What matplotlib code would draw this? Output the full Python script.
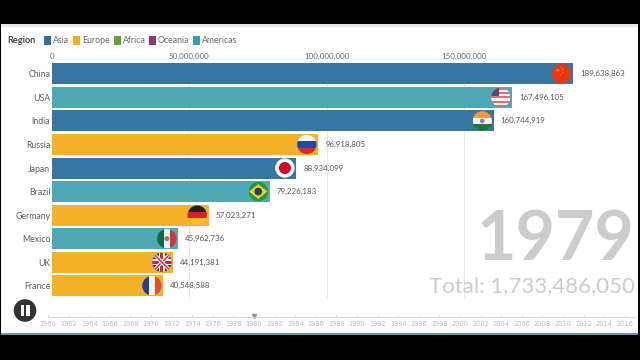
"""
Bar chart race frame: ten largest economies in 1979, Flourish style.
"""

import matplotlib
matplotlib.use("Agg")
import matplotlib.pyplot as plt
from matplotlib.patches import Circle, Rectangle, Polygon

W, H = 640, 360

countries = ["China", "USA", "India", "Russia", "Japan", "Brazil", "Germany", "Mexico", "UK", "France"]
values = [189638863, 167496105, 160744919, 96918805, 88934099, 79226183, 57023271, 45962736, 44191381, 40548588]
regions = ["Asia", "Americas", "Asia", "Europe", "Asia", "Americas", "Europe", "Americas", "Europe", "Europe"]
flags = ["cn", "us", "in", "ru", "jp", "br", "de", "mx", "uk", "fr"]

legend_names = ["Asia", "Europe", "Africa", "Oceania", "Americas"]
legend_colors = ["#2f6f9f", "#f3ae1f", "#6a9f3c", "#8e3a6d", "#2f9ea8"]
bar_colors = {"Asia": "#3776a1", "Europe": "#f3b229", "Americas": "#4fa8b4"}

axis_ticks = [0, 50000000, 100000000, 150000000]
timeline_years = list(range(1960, 2017, 2))
current_year = 1980
year_label = "1979"
total_label = "Total: 1,733,486,050"

plt.rcParams["font.family"] = ["Lato", "DejaVu Sans"]


def px_axes(fig, x0, y0, x1, y1):
    """Axes covering a box given in image pixels (y going down)."""
    return fig.add_axes([x0 / W, 1 - y1 / H, (x1 - x0) / W, (y1 - y0) / H])


def draw_flag(fig, cx, cy, code, r=9.7):
    ax = px_axes(fig, cx - r, cy - r, cx + r, cy + r)
    ax.set_xlim(0, 1)
    ax.set_ylim(0, 1)
    ax.axis("off")
    clip = Circle((0.5, 0.5), 0.5, transform=ax.transData)
    parts = []

    def rect(x, y, w, h, c):
        parts.append(ax.add_patch(Rectangle((x, y), w, h, color=c, lw=0)))

    if code == "cn":
        rect(0, 0, 1, 1, "#e8380d")
        for sx, sy, s in [(0.3, 0.68, 0.07), (0.47, 0.83, 0.03), (0.55, 0.72, 0.03), (0.55, 0.56, 0.03), (0.45, 0.46, 0.03)]:
            parts.append(ax.add_patch(Circle((sx, sy), s, color="#f0902a", lw=0)))
    elif code == "us":
        for i in range(9):
            rect(0, i / 9, 1, 1 / 9, "#d9737b" if i % 2 == 0 else "#f4eeee")
        rect(0, 0.55, 0.42, 0.45, "#4a4c7c")
    elif code == "in":
        rect(0, 0.66, 1, 0.34, "#f5993a")
        rect(0, 0.33, 1, 0.33, "#f7f7f7")
        rect(0, 0, 1, 0.33, "#1c7a2c")
        parts.append(ax.add_patch(Circle((0.5, 0.5), 0.12, color="#7a84b0", lw=0)))
    elif code == "ru":
        rect(0, 0.66, 1, 0.34, "#f7f7f7")
        rect(0, 0.33, 1, 0.33, "#1f4aa8")
        rect(0, 0, 1, 0.33, "#d8282f")
    elif code == "jp":
        rect(0, 0, 1, 1, "#f8f8f8")
        parts.append(ax.add_patch(Circle((0.5, 0.5), 0.31, color="#cf0a2c", lw=0)))
    elif code == "br":
        rect(0, 0, 1, 1, "#1f9b3c")
        parts.append(ax.add_patch(Polygon([(0.03, 0.5), (0.5, 0.88), (0.97, 0.5), (0.5, 0.12)], color="#f7d417", lw=0)))
        parts.append(ax.add_patch(Circle((0.5, 0.5), 0.2, color="#1f3a86", lw=0)))
    elif code == "de":
        rect(0, 0.66, 1, 0.34, "#222222")
        rect(0, 0.33, 1, 0.33, "#d8202a")
        rect(0, 0, 1, 0.33, "#f6c417")
    elif code == "mx":
        rect(0, 0, 0.33, 1, "#11694a")
        rect(0.33, 0, 0.34, 1, "#f7f7f7")
        rect(0.67, 0, 0.33, 1, "#d3343f")
        parts.append(ax.add_patch(Circle((0.5, 0.5), 0.13, color="#9a7a4a", lw=0)))
    elif code == "uk":
        rect(0, 0, 1, 1, "#2a2f70")
        for a, b in [((0, 0), (1, 1)), ((0, 1), (1, 0))]:
            parts.append(ax.plot([a[0], b[0]], [a[1], b[1]], color="#f5f5f5", lw=2.6)[0])
            parts.append(ax.plot([a[0], b[0]], [a[1], b[1]], color="#cf2436", lw=1)[0])
        rect(0, 0.36, 1, 0.28, "#f5f5f5")
        rect(0.36, 0, 0.28, 1, "#f5f5f5")
        rect(0, 0.42, 1, 0.16, "#cf2436")
        rect(0.42, 0, 0.16, 1, "#cf2436")
    elif code == "fr":
        rect(0, 0, 0.33, 1, "#1f3f9a")
        rect(0.33, 0, 0.34, 1, "#f7f7f7")
        rect(0.67, 0, 0.33, 1, "#ea4b2c")
    for p in parts:
        p.set_clip_path(clip)


fig = plt.figure(figsize=(W / 100, H / 100), dpi=100, facecolor="black")

# white page behind the chart
page = px_axes(fig, 1, 24, 638, 335)
page.set_xlim(0, 1)
page.set_ylim(0, 1)
page.axis("off")
page.add_patch(Rectangle((0, 0), 1, 1, color="white", lw=0))
page.add_patch(Rectangle((0, 0), 1, 0.005, color="#6f94ad", lw=0))
page.add_patch(Rectangle((0, 0.99), 1, 0.01, color="#e6e6e6", lw=0))

# bars
ax = px_axes(fig, 52, 61, 636, 298)
step = 23.55
bar_h = 21 / step
ax.set_xlim(0, 584 / 137.4 * 50000000)
ax.set_ylim((298 - 73.8) / step, (61 - 73.8) / step)
ax.patch.set_alpha(0)
for s in ax.spines.values():
    s.set_visible(False)
ax.set_xticks(axis_ticks)
ax.set_xticklabels([f"{t:,}" for t in axis_ticks], fontsize=5.8, color="#666666")
ax.xaxis.tick_top()
ax.tick_params(axis="x", length=0, pad=1)
ax.set_yticks(range(len(countries)))
ax.set_yticklabels(countries, fontsize=6.3, color="#5c5c5c")
ax.tick_params(axis="y", length=0, pad=1.2)
ax.grid(axis="x", color="#e8e8e8", lw=0.7, zorder=0)
ax.set_axisbelow(True)
ax.barh(range(len(countries)), values, height=bar_h, color=[bar_colors[r] for r in regions], zorder=2)
for i, v in enumerate(values):
    ax.annotate(f"{v:,}", (v, i), xytext=(5, 0), textcoords="offset points", va="center",
                fontsize=5.7, color="#555555")

# flags sit at the bar ends
fig.canvas.draw()
for i, (v, code) in enumerate(zip(values, flags)):
    px, py = ax.transData.transform((v, i))
    draw_flag(fig, px - 11.5, H - py, code)

# legend
fig.text(7.5 / W, 1 - 40.3 / H, "Region", fontsize=6.6, fontweight="bold", color="#444444", va="center")
overlay = px_axes(fig, 0, 0, W, H)
overlay.set_xlim(0, W)
overlay.set_ylim(H, 0)
overlay.axis("off")
overlay.patch.set_alpha(0)
legend_x = [44, 73, 114, 149, 193]
for x, name, c in zip(legend_x, legend_names, legend_colors):
    overlay.add_patch(Rectangle((x, 36), 7, 8.5, color=c, lw=0))
    overlay.text(x + 9, 40.3, name, fontsize=6.3, color="#6a6a6a", va="center")

# year and total
overlay.text(634, 260, year_label, fontsize=49, fontweight="bold", color="#cccccc", ha="right", va="baseline")
overlay.text(635, 292, total_label, fontsize=16, color="#cccccc", ha="right", va="baseline")

# pause button
overlay.add_patch(Circle((25, 310.5), 11.3, color="#333333", lw=0))
overlay.add_patch(Rectangle((20.5, 305), 3.7, 10.5, color="white", lw=0))
overlay.add_patch(Rectangle((25.8, 305), 3.7, 10.5, color="white", lw=0))

# timeline
tl = px_axes(fig, 48, 310, 635, 330)
tl.set_xlim(1960, 1960 + 587 / 10.3)
tl.set_ylim(0, 20)
tl.patch.set_alpha(0)
for name in ["top", "left", "right"]:
    tl.spines[name].set_visible(False)
tl.spines["bottom"].set_position(("data", 12.7))
tl.spines["bottom"].set_color("#cfcfcf")
tl.spines["bottom"].set_linewidth(0.6)
tl.set_yticks([])
tl.set_xticks(timeline_years)
tl.set_xticklabels(timeline_years, fontsize=4.8, color="#b5bcc4", family="DejaVu Sans")
tl.tick_params(axis="x", direction="in", length=1.5, width=0.5, color="#cfcfcf", pad=2.5)
tl.plot([current_year], [14.5], marker="v", ms=3, color="#999999", clip_on=False)

fig.savefig("out.png", dpi=100, facecolor="black")
plt.close(fig)
